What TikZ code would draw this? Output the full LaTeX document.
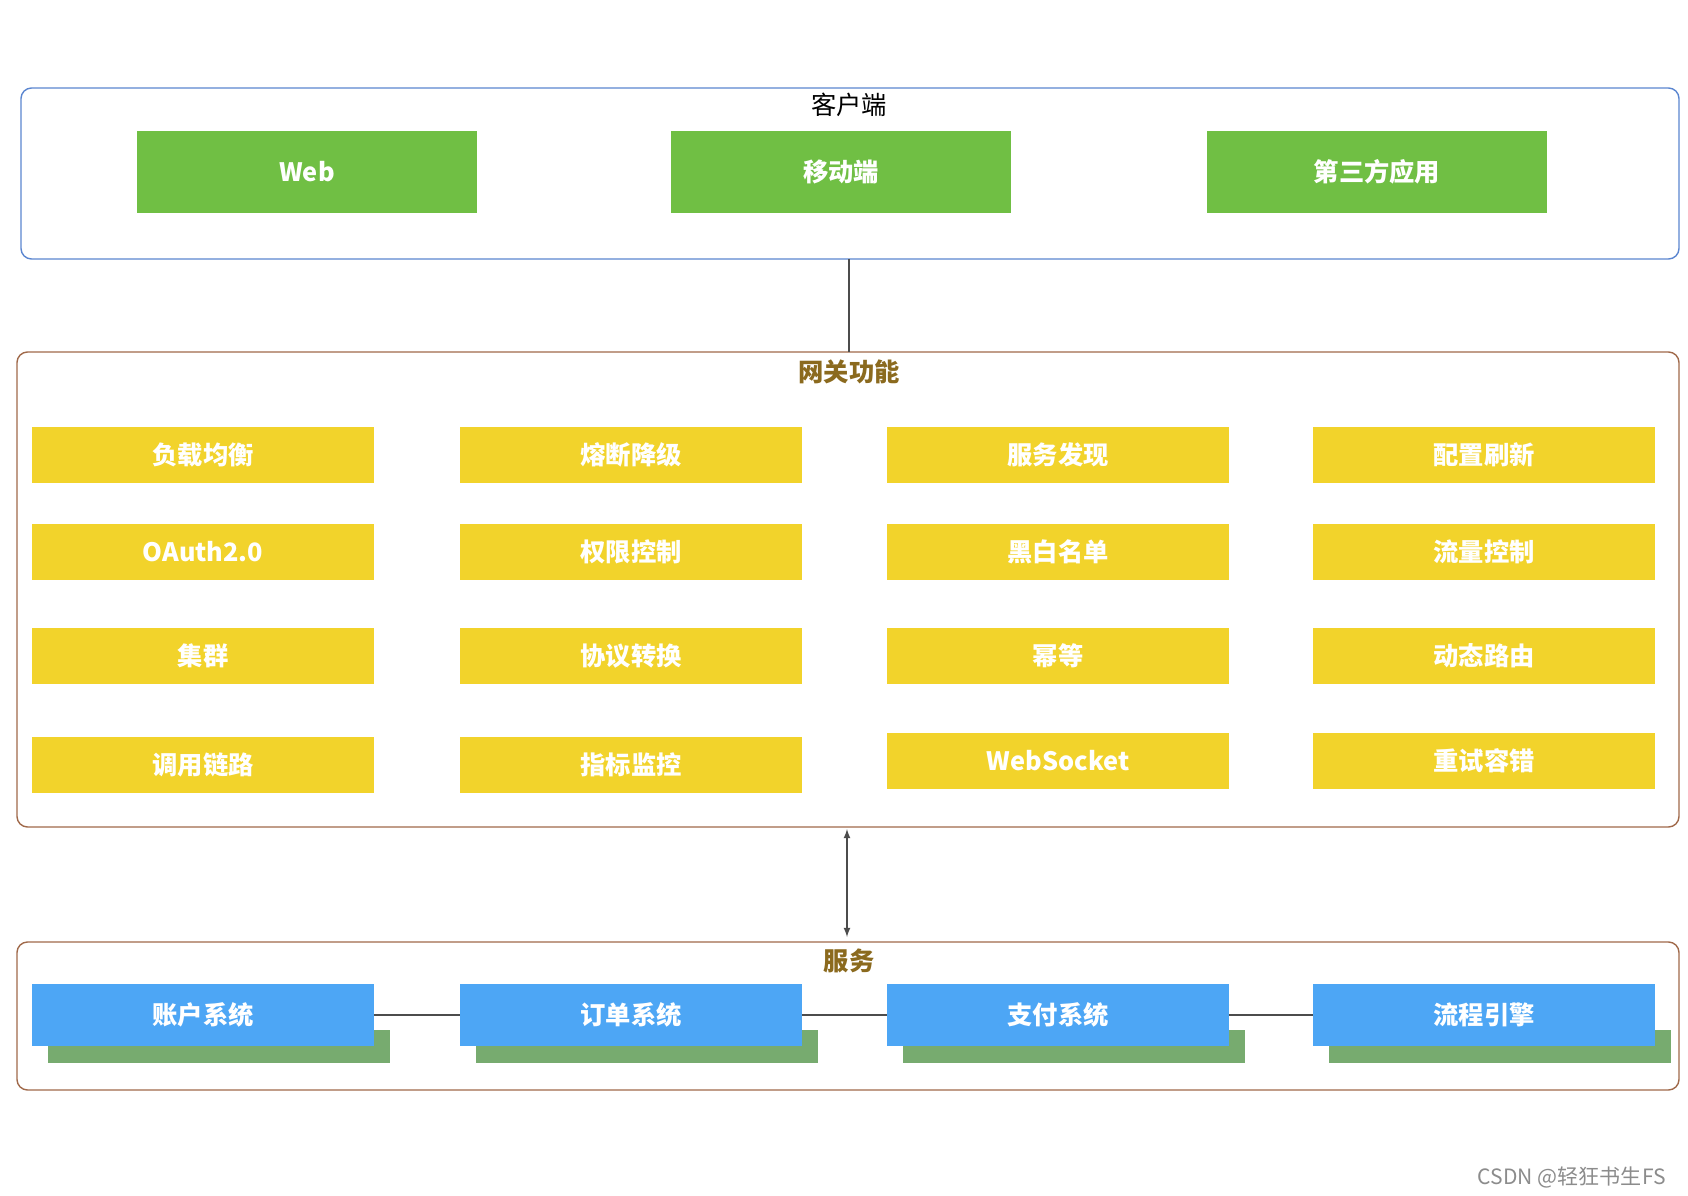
\documentclass[tikz,border=0pt]{standalone}
\usepackage{fontspec}
\setmainfont{Noto Sans CJK SC}
\usetikzlibrary{positioning}
\definecolor{clientgreen}{HTML}{70BF44}
\definecolor{gateyellow}{HTML}{F2D32B}
\definecolor{svcblue}{HTML}{4DA6F5}
\definecolor{shadowgreen}{HTML}{77AB6F}
\definecolor{framebrown}{HTML}{A0694A}
\definecolor{frameblue}{HTML}{5B86D0}
\definecolor{titlebrown}{HTML}{8B6A1E}
\tikzset{
    %Define style for frames
    frame/.style={
             draw, thick, rounded corners=6pt},
    % Define style for boxes
    clientnode/.style={
             fill=clientgreen, text=white, inner sep=0pt,
             minimum width=6.8cm, minimum height=1.64cm,
             font=\bfseries\Large},
    gatenode/.style={
             fill=gateyellow, text=white, inner sep=0pt,
             minimum width=6.84cm, minimum height=1.12cm,
             font=\bfseries\Large},
    svcnode/.style={
             fill=svcblue, text=white, inner sep=0pt,
             minimum width=6.84cm, minimum height=1.26cm,
             font=\bfseries\Large},
    % Define connector style
    link/.style={
            draw=black!70, thick}
}

\begin{document}
\begin{tikzpicture}[x=0.02cm, y=-0.02cm]
 \useasboundingbox (0,0) rectangle (1688,1196);
 \fill[white] (0,0) rectangle (1688,1196);
% frames
 \draw[frame, frameblue] (21,88) rectangle (1679,259);
 \draw[frame, framebrown] (17,352) rectangle (1679,827);
 \draw[frame, framebrown] (17,942) rectangle (1679,1090);
 \node[font=\Large] (ctitle) at (849,105) {客户端};
 \node[font=\bfseries\Large, text=titlebrown] (gtitle) at (849,372) {网关功能};
 \node[font=\bfseries\Large, text=titlebrown] (stitle) at (849,961) {服务};
% client
 \node[clientnode] (web) at (307,172) {Web};
 \node[clientnode] (mobile) at (841,172) {移动端};
 \node[clientnode] (third) at (1377,172) {第三方应用};
% gateway
 \foreach \name/\lbl/\x/\y in {
    lb/负载均衡/203/455, fuse/熔断降级/631/455, disc/服务发现/1058/455, cfg/配置刷新/1484/455,
    oauth/OAuth2.0/203/552, perm/权限控制/631/552, bw/黑白名单/1058/552, flow/流量控制/1484/552,
    cluster/集群/203/656, proto/协议转换/631/656, idem/幂等/1058/656, route/动态路由/1484/656,
    trace/调用链路/203/765, metric/指标监控/631/765, ws/WebSocket/1058/761, retry/重试容错/1484/761}
   \node[gatenode] (\name) at (\x,\y) {\lbl};
% services
 \foreach \name/\lbl/\x in {acct/账户系统/203, order/订单系统/631, pay/支付系统/1058, proc/流程引擎/1484}{
   \fill[shadowgreen] (\x-155,1030) rectangle (\x+187,1063);
   \node[svcnode] (\name) at (\x,1015) {\lbl};
 }
 \draw[link] (acct) -- (order);
 \draw[link] (order) -- (pay);
 \draw[link] (pay) -- (proc);
% links between layers
 \coordinate (ctop) at (849,259);
 \coordinate (gtop) at (849,352);
 \coordinate (gbot) at (847,829);
 \coordinate (stop) at (847,937);
 \draw[link] (ctop) -- (gtop);
 \draw[link, <->, >=latex] (gbot) -- (stop);
 \node[text=black!45, font=\large, anchor=east] (mark) at (1672,1177) {CSDN @轻狂书生FS};
\end{tikzpicture}
\end{document}
